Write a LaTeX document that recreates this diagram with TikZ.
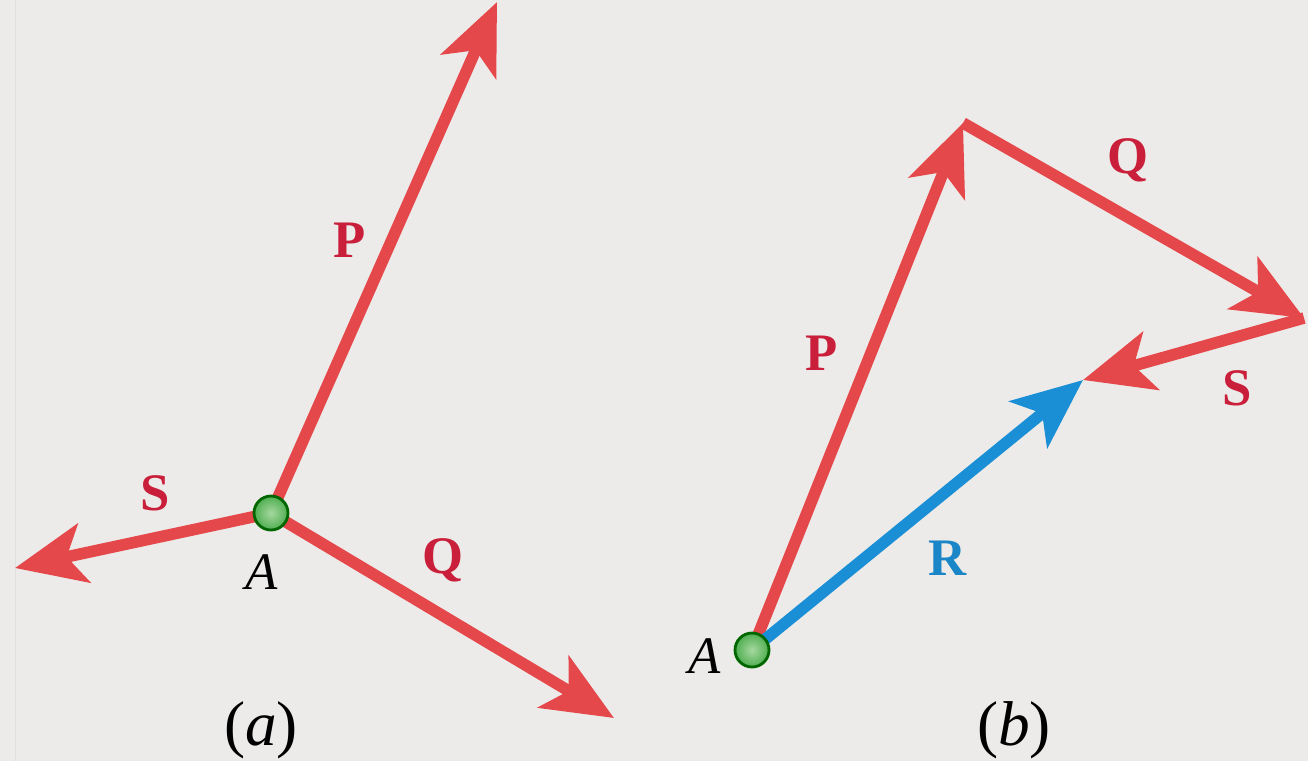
\documentclass[tikz,border=0pt]{standalone}
\usepackage{fontspec}
\setmainfont{Liberation Serif}
\usetikzlibrary{arrows.meta}
\usetikzlibrary{positioning}

\definecolor{vecred}{HTML}{E5484B}
\definecolor{labred}{HTML}{C91F3B}
\definecolor{vecblue}{HTML}{1A8FD6}
\definecolor{labblue}{HTML}{1A86C8}
\definecolor{paper}{HTML}{EDEBE9}
\definecolor{ballin}{HTML}{A6D8A0}
\definecolor{ballout}{HTML}{4FAE50}

\tikzset{
  vec/.style={draw=vecred,line width=3.3pt,-{Stealth[length=20pt,width=17pt,inset=5pt]}},
  rvec/.style={vec,draw=vecblue},
  ball/.style={circle,minimum size=0.34cm,inner sep=0pt,inner color=ballin,outer color=ballout,draw=green!40!black,line width=0.8pt},
  vlab/.style={font=\fontsize{15}{17}\selectfont\bfseries,text=labred},
  plab/.style={font=\fontsize{15}{17}\selectfont\itshape},
  partlab/.style={font=\fontsize{18}{20}\selectfont}
}

\begin{document}
\begin{tikzpicture}
\useasboundingbox (0,0) rectangle (13.08,7.61);
\fill[paper] (0,0) rectangle (13.08,7.61);
\draw[black!12,very thin] (0.15,0) -- (0.15,7.61);

% (a)
\coordinate (Aa) at (2.71,2.48);
\coordinate (Pa) at (4.97,7.59);
\coordinate (Sa) at (0.15,1.93);
\coordinate (Qa) at (6.14,0.43);
\draw[vec] (Aa) -- (Pa);
\draw[vec] (Aa) -- (Sa);
\draw[vec] (Aa) -- (Qa);
\node[ball] (ballA) at (Aa) {};
\node[vlab] (labPa) at (3.50,5.21) {P};
\node[vlab] (labSa) at (1.55,2.68) {S};
\node[vlab] (labQa) at (4.43,2.01) {Q};
\node[plab] (labAa) at (2.62,1.89) {A};
\node[partlab] (capa) at (2.61,0.31) {(\textit{a})};

% (b)
\coordinate (Ab) at (7.52,1.11);
\coordinate (Pb) at (9.63,6.38);
\coordinate (Qb) at (13.04,4.43);
\coordinate (Sb) at (10.83,3.81);
\draw[vec] (Ab) -- (Pb);
\draw[vec] (Pb) -- (Qb);
\draw[vec] (Qb) -- (Sb);
\draw[rvec] (Ab) -- (Sb);
\node[ball] (ballB) at (Ab) {};
\node[vlab] (labPb) at (8.22,4.08) {P};
\node[vlab] (labQb) at (11.28,6.01) {Q};
\node[vlab] (labSb) at (12.37,3.73) {S};
\node[vlab,text=labblue] (labR) at (9.48,2.03) {R};
\node[plab] (labAb) at (7.05,1.05) {A};
\node[partlab] (capb) at (10.14,0.31) {(\textit{b})};
\end{tikzpicture}
\end{document}
